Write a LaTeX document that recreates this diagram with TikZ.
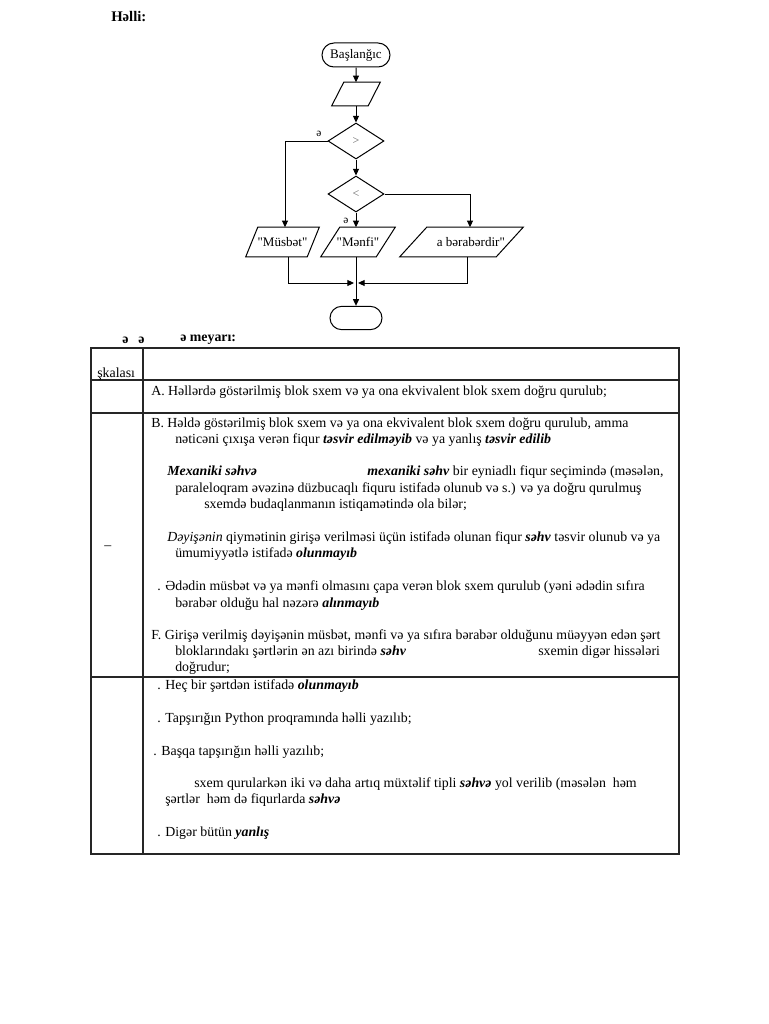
\documentclass[tikz,border=0pt]{standalone}
\usepackage{fontspec}
\setmainfont{Liberation Serif}
\newfontfamily\plainq{Liberation Serif}
\usetikzlibrary{shapes.geometric,shapes.misc,arrows.meta,calc}
\newcommand\bi[1]{\textbf{\textit{#1}}}
\newcommand\dq{{\plainq\symbol{34}}}
\newcommand\pgr[2]{\draw[fl] ([xshift=-#2]#1.south west) -- ([xshift=-#2]#1.south east) -- ([xshift=#2]#1.north east) -- ([xshift=#2]#1.north west) -- cycle;}
\begin{document}
\begin{tikzpicture}[x=0.75pt,y=-0.75pt,
  tx/.style={anchor=west,inner sep=0,text height=7.5pt,text depth=2pt,font=\fontsize{10.4}{12}\selectfont},
  fl/.style={draw,line width=0.75pt},
  term/.style={fl,rounded rectangle,inner sep=0,font=\fontsize{9.8}{11}\selectfont},
  dia/.style={fl,diamond,inner sep=0,minimum width=42pt,minimum height=27pt,font=\fontsize{9}{10}\selectfont,text=black!60},
  para/.style={inner sep=0,font=\fontsize{9.8}{11}\selectfont},
  arr/.style={line width=0.75pt,-{Triangle[length=5pt,width=4.5pt]}},
  lab/.style={inner sep=0,font=\fontsize{8.5}{9}\selectfont},
  tb/.style={line width=1pt,black!85}]
\useasboundingbox (0,0) rectangle (768,1024);
\fill[white] (0,0) rectangle (768,1024);

% heading
\node[anchor=west,inner sep=0,font=\bfseries\fontsize{11}{13}\selectfont] (h) at (111,17) {Həlli:};

% flowchart
\node[term,minimum width=51pt,minimum height=18pt] (start) at (356,55) {Başlanğıc};
\node[para,minimum width=27pt,minimum height=17.25pt] (inp) at (356,94) {};
\pgr{inp}{4.5pt}
\node[dia] (d1) at (356,141) {>};
\node[dia] (d2) at (356,194) {<};
\node[para,minimum width=45.75pt,minimum height=21.75pt] (mus) at (282.5,242) {\dq Müsbət\dq};
\pgr{mus}{4.5pt}
\node[para,minimum width=41.25pt,minimum height=21.75pt] (men) at (358,242) {\dq Mənfi\dq};
\pgr{men}{7.1pt}
\node[para,minimum width=72pt,minimum height=21.75pt] (eq) at (461.5,242) {\hspace*{14pt}a bərabərdir\dq};
\pgr{eq}{10.1pt}
\node[term,minimum width=39pt,minimum height=17.5pt] (end) at (356,318) {};
\coordinate (jl) at (354,283);
\coordinate (jr) at (358,283);

\draw[arr] (start) -- (inp);
\draw[arr] (inp) -- (d1);
\draw[arr] (d1.west) -| ($(mus.north)+(2.5,0)$);
\draw[arr] (d1) -- (d2);
\draw[arr] (d2.south) -- (d2.south |- men.north);
\draw[arr] (d2.east) -| ($(eq.north)+(8.5,0)$);
\draw[arr] ($(mus.south)+(5.5,0)$) |- (jl);
\draw[arr] ($(eq.south)+(5.5,0)$) |- (jr);
\draw[arr] (d2.south |- men.south) -- (end);
\node[lab] (y1) at (319,134) {ə};
\node[lab] (y2) at (346,221) {ə};

% header line
\node[anchor=west,inner sep=0,font=\bfseries\fontsize{10.4}{12}\selectfont] (k1) at (122,340) {ə};
\node[anchor=west,inner sep=0,font=\bfseries\fontsize{10.4}{12}\selectfont] (k2) at (138,340) {ə};
\node[anchor=west,inner sep=0,font=\bfseries\fontsize{10.4}{12}\selectfont] (k3) at (180,340) {ə meyarı:};

% table
\draw[tb] (91,348) rectangle (679,854);
\draw[tb] (143,348) -- (143,854);
\draw[tb] (91,380) -- (679,380);
\draw[tb] (91,413) -- (679,413);
\draw[tb] (91,677) -- (679,677);

\node[tx] (s) at (97,374) {şkalası};
\node[tx] (dash) at (104,546) {–};

\node[tx] (a1) at (151,392) {A. Həllərdə göstərilmiş blok sxem və ya ona ekvivalent blok sxem doğru qurulub;};

\node[tx] (b1) at (151,424) {B. Həldə göstərilmiş blok sxem və ya ona ekvivalent blok sxem doğru qurulub, amma};
\node[tx] (b2) at (175,440) {nəticəni çıxışa verən fiqur \bi{təsvir edilməyib} və ya yanlış \bi{təsvir edilib}};
\node[tx] (b3) at (167,472) {\bi{Mexaniki səhvə}};
\node[tx] (b3b) at (367,472) {\bi{mexaniki səhv} bir eyniadlı fiqur seçimində (məsələn,};
\node[tx] (b4) at (175,489) {paraleloqram əvəzinə düzbucaqlı fiquru istifadə olunub və s.) və ya doğru qurulmuş};
\node[tx] (b5) at (204,505) {sxemdə budaqlanmanın istiqamətində ola bilər;};
\node[tx] (b6) at (167,538) {\textit{Dəyişənin} qiymətinin girişə verilməsi üçün istifadə olunan fiqur \bi{səhv} təsvir olunub və ya};
\node[tx] (b7) at (175,554) {ümumiyyətlə istifadə \bi{olunmayıb}};
\node[tx] (b8) at (157,587) {. Ədədin müsbət və ya mənfi olmasını çapa verən blok sxem qurulub (yəni ədədin sıfıra};
\node[tx] (b9) at (175,604) {bərabər olduğu hal nəzərə \bi{alınmayıb}};
\node[tx] (b10) at (151,636) {F. Girişə verilmiş dəyişənin müsbət, mənfi və ya sıfıra bərabər olduğunu müəyyən edən şərt};
\node[tx] (b11) at (175,652) {bloklarındakı şərtlərin ən azı birində \bi{səhv}};
\node[tx] (b11b) at (538,652) {sxemin digər hissələri};
\node[tx] (b12) at (175,668) {doğrudur;};

\node[tx] (c1) at (157,686) {. Heç bir şərtdən istifadə \bi{olunmayıb}};
\node[tx] (c2) at (157,719) {. Tapşırığın Python proqramında həlli yazılıb;};
\node[tx] (c3) at (153,752) {. Başqa tapşırığın həlli yazılıb;};
\node[tx] (c4) at (194,784) {sxem qurularkən iki və daha artıq müxtəlif tipli \bi{səhvə} yol verilib (məsələn\ \ həm};
\node[tx] (c5) at (165,800) {şərtlər\ \ həm də fiqurlarda \bi{səhvə}};
\node[tx] (c6) at (157,833) {. Digər bütün \bi{yanlış}};
\end{tikzpicture}
\end{document}
